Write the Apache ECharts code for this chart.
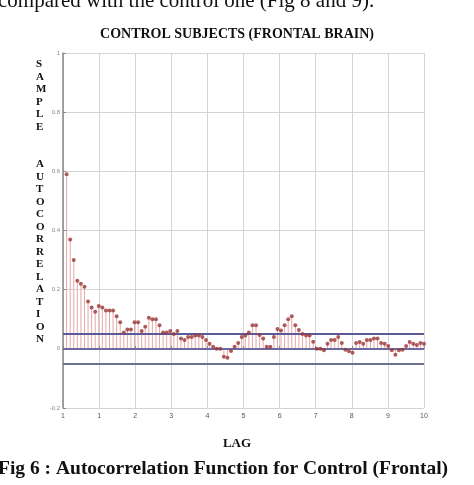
<!DOCTYPE html><html><head><meta charset="utf-8"><script src="https://cdn.jsdelivr.net/npm/echarts@6/dist/echarts.min.js"></script>
<style>html,body{margin:0;padding:0;background:#fff}#c{width:474px;height:485px}</style></head><body><div id="c"></div><script>
const title = 'CONTROL SUBJECTS (FRONTAL BRAIN)';
const yLabelText = 'SAMPLE  AUTOCORRELATION';
const xName = 'LAG';
const caption = 'Fig 6 : Autocorrelation Function for Control (Frontal)';
const topText = 'compared with the control one (Fig 8 and 9).';
const acf = [0.59,0.37,0.30,0.23,0.22,0.21,0.16,0.14,0.125,0.145,0.14,0.13,0.13,0.13,0.11,0.09,0.055,0.065,0.065,0.09,0.09,0.06,0.075,0.105,0.10,0.10,0.08,0.055,0.055,0.06,0.05,0.06,
0.035,0.03,0.04,0.04,0.045,0.045,0.04,0.03,0.017,0.007,0.0,0.0,-0.027,-0.03,-0.007,0.007,0.02,0.04,0.045,0.055,0.08,0.08,0.047,0.035,0.007,0.007,0.04,0.067,0.062,0.08,0.1,0.11,0.08,0.064,0.05,0.045,0.045,0.024,0.0,0.0,-0.005,0.017,0.03,0.03,0.04,0.02,-0.003,-0.008,-0.013,0.02,0.023,0.017,0.03,0.03,0.035,0.035,0.02,0.017,0.01,-0.005,-0.02,-0.005,-0.003,0.01,0.023,0.017,0.013,0.02,0.017];
const lagStart = 0.1, lagEnd = 10.0;
const bounds = [0.05, -0.05];
const yTicks = {min:-0.2, max:1, interval:0.2};
const data = acf.map((v,i)=>[lagStart + i*(lagEnd-lagStart)/(acf.length-1), v]);
const serif = 'Liberation Serif';
const ch = echarts.init(document.getElementById('c'));
ch.setOption({
  animation:false,
  grid:{left:63,right:50,top:53,bottom:77},
  title:{text:title,left:'center',top:22,textStyle:{fontFamily:serif,fontWeight:'bold',fontSize:14,color:'#111'}},
  graphic:[
    {type:'text',left:-2,top:-9,style:{text:topText,font:'21px "Liberation Serif"',fill:'#111'}},
    {type:'text',left:36,top:58,style:{text:yLabelText.split('').join('\n'),font:'bold 11px "Liberation Serif"',lineHeight:12.5,fill:'#111',align:'center'}},
    {type:'text',left:'center',top:437,style:{text:xName,font:'bold 13px "Liberation Serif"',fill:'#111'}},
    {type:'text',left:-2,top:459,style:{text:caption,font:'bold 19.5px "Liberation Serif"',fill:'#111'}}
  ],
  xAxis:{type:'value',min:0,max:10,interval:1,
    axisLine:{show:true,lineStyle:{color:'#888',width:1.5}},axisTick:{show:true,inside:true,length:3},
    axisLabel:{fontSize:7,color:'#555',margin:5,formatter:v=>v===0?'1':v},splitLine:{show:true,lineStyle:{color:'#d4d4d4'}}},
  yAxis:{type:'value',min:yTicks.min,max:yTicks.max,interval:yTicks.interval,
    axisLine:{show:true,lineStyle:{color:'#888',width:1.5}},axisTick:{show:true,inside:true,length:3},
    axisLabel:{fontSize:6,color:'#888',margin:3,formatter:v=>+v.toFixed(1)},splitLine:{show:true,lineStyle:{color:'#d4d4d4'}}},
  series:[
    {type:'bar',data:data,barWidth:1,itemStyle:{color:'#e6a8a8'},
     markLine:{symbol:'none',silent:true,label:{show:false},
       data:[{yAxis:bounds[0],lineStyle:{color:'#5a5a9a',width:2,type:'solid'}},
             {yAxis:0,lineStyle:{color:'#6a6aa0',width:2,type:'solid'}},
             {yAxis:bounds[1],lineStyle:{color:'#6a7090',width:2,type:'solid'}}]}},
    {type:'scatter',data:data,symbolSize:4,itemStyle:{color:'#9a3535'},z:5}
  ]
});
</script></body></html>
